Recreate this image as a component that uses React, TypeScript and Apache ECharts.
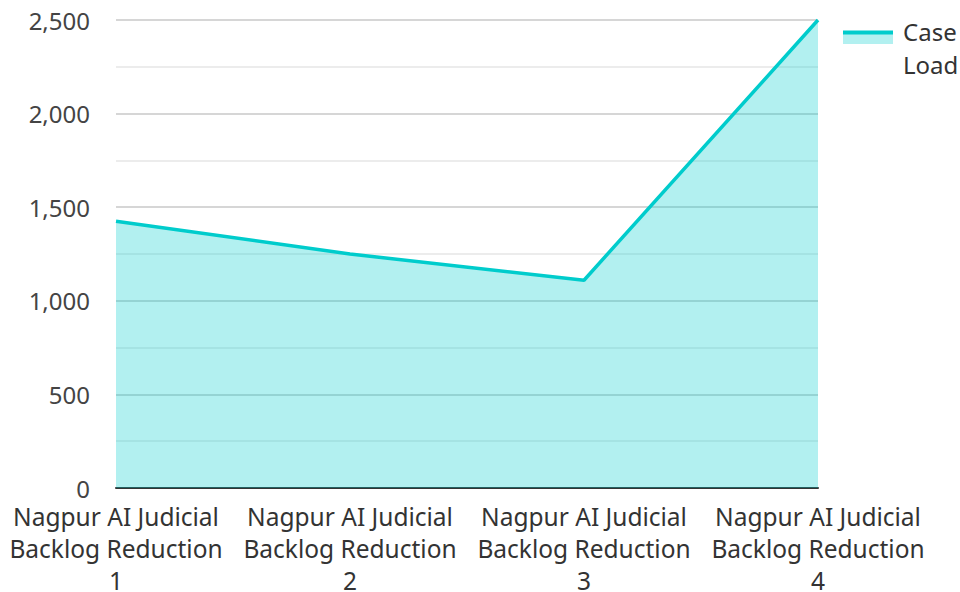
import React, { useEffect, useRef } from "react";
import * as echarts from "echarts";

const categories = [
  "Nagpur AI Judicial Backlog Reduction 1",
  "Nagpur AI Judicial Backlog Reduction 2",
  "Nagpur AI Judicial Backlog Reduction 3",
  "Nagpur AI Judicial Backlog Reduction 4",
];
const caseLoad = [1425, 1250, 1110, 2500];
const seriesName = "Case Load";

const FONT = "'Noto Sans', 'Open Sans', sans-serif";
const LINE = "#00cccc";
const FILL = "rgba(0,204,204,0.3)";

export default function App() {
  const ref = useRef<HTMLDivElement>(null);
  useEffect(() => {
    if (!ref.current) return;
    const chart = echarts.init(ref.current, null, { renderer: "svg" });
    chart.setOption({
      animation: false,
      textStyle: { fontFamily: FONT },
      grid: {
        left: 116,
        right: 142,
        top: 20,
        bottom: 104,
        containLabel: false,
        outerBoundsMode: "none",
      },
      xAxis: {
        type: "category",
        data: categories,
        boundaryGap: false,
        axisLine: { lineStyle: { color: "#333333", width: 2 } },
        axisTick: { show: false },
        axisLabel: {
          interval: 0,
          color: "#333333",
          fontSize: 24.5,
          lineHeight: 32,
          margin: 12,
          fontFamily: FONT,
          formatter: (v: string) => {
            const m = v.match(/^(.*Judicial) (Backlog Reduction) (\d+)$/);
            return m ? `${m[1]}\n${m[2]}\n${m[3]}` : v;
          },
        },
        splitLine: { show: false },
      },
      yAxis: {
        type: "value",
        min: 0,
        max: 2500,
        interval: 500,
        axisLine: { show: false },
        axisTick: { show: false },
        axisLabel: {
          color: "#444444",
          fontSize: 24,
          margin: 26,
          fontFamily: FONT,
          formatter: (v: number) => v.toLocaleString("en-US"),
        },
        splitLine: { show: true, lineStyle: { color: "#c8c8c8", width: 1.5 } },
        minorTick: { show: false, splitNumber: 2 },
        minorSplitLine: { show: true, lineStyle: { color: "#e6e6e6", width: 1.5 } },
      },
      series: [
        {
          name: seriesName,
          type: "line",
          data: caseLoad,
          showSymbol: false,
          symbol: "none",
          lineStyle: { color: LINE, width: 3.5 },
          itemStyle: { color: LINE },
          areaStyle: { color: FILL, opacity: 1 },
        },
      ],
      graphic: [
        {
          type: "rect",
          left: 843,
          top: 33,
          shape: { width: 50, height: 11 },
          style: { fill: FILL },
        },
        {
          type: "line",
          shape: { x1: 843, y1: 32.5, x2: 893, y2: 32.5 },
          style: { stroke: LINE, lineWidth: 4 },
        },
        {
          type: "text",
          left: 903,
          top: 15,
          style: {
            text: "Case\nLoad",
            fill: "#333333",
            fontSize: 24,
            lineHeight: 33,
            fontFamily: FONT,
          },
        },
      ],
    });
    return () => chart.dispose();
  }, []);
  return <div ref={ref} style={{ width: 960, height: 592, position: "absolute", left: 0, top: 0 }} />;
}
